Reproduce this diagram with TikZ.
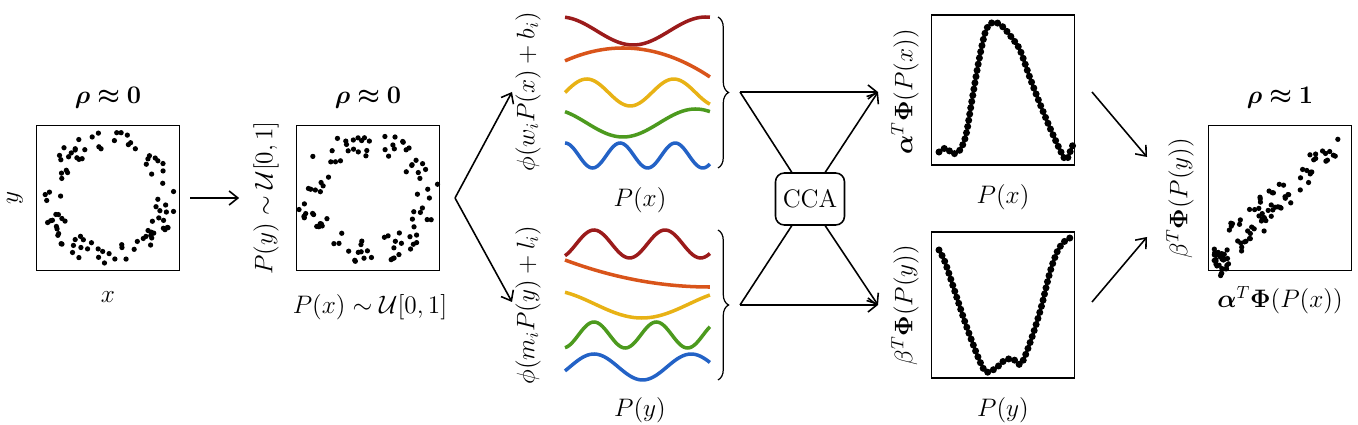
\documentclass[tikz,border=0pt]{standalone}
\usepackage{amsmath}
\usepackage{amssymb}
\usepackage{bm}
\usepackage{tikz}
\usetikzlibrary{arrows.meta, positioning, decorations.pathreplacing, calc}
\definecolor{cred}{HTML}{9B1B1B}
\definecolor{corange}{HTML}{D9541A}
\definecolor{cyellow}{HTML}{E8B215}
\definecolor{cgreen}{HTML}{4C9A1E}
\definecolor{cblue}{HTML}{2362C6}

\begin{document}
\begin{tikzpicture}[x=0.02cm, y=-0.02cm, font=\Large,
    panel/.style={draw, line width=0.9pt, minimum width=2.86cm, minimum height=2.9cm, inner sep=0pt},
    arr/.style={-{Straight Barb[length=5pt,width=8pt]}, line width=0.9pt},
    wave/.style={line width=2pt, smooth, samples=60, domain=0:1},
    dotcurve/.style={line width=4pt, line cap=round, dash pattern=on 0pt off 3.6pt, smooth}]
        \useasboundingbox (0,0) rectangle (1358,425);
        % Scatter panels
        \node[panel] (sc1) at (108,198) {};
        \node[panel] (sc2) at (368,198) {};
        \node[panel] (sc5) at (1280,198) {};
        \pgfmathsetseed{7}
        \foreach \i in {1,...,95}{
          \pgfmathsetmacro\ang{360*rnd}
          \pgfmathsetmacro\rad{57+10*rand}
          \fill ({108+\rad*cos(\ang)}, {198+\rad*sin(\ang)}) circle (1.5pt);
        }
        \foreach \i in {1,...,95}{
          \pgfmathsetmacro\ang{360*rnd}
          \pgfmathsetmacro\rad{54+12*rand}
          \fill ({368+1.08*\rad*cos(\ang)}, {198+\rad*sin(\ang)}) circle (1.5pt);
        }
        \foreach \i in {1,...,85}{
          \pgfmathsetmacro\t{rnd^1.2}
          \pgfmathsetmacro\n{24*rand*(1-0.4*\t)}
          \fill ({1214+128*\t}, {260-120*\t+\n}) circle (1.5pt);
        }
        \foreach \i in {1,...,16}{
          \fill ({1213+12*rnd}, {252+14*rnd}) circle (1.5pt);
        }
        % Labels of scatter panels
        \node (t1) at (108,98) {$\bm{\rho \approx 0}$};
        \node (t2) at (368,98) {$\bm{\rho \approx 0}$};
        \node (t5) at (1280,98) {$\bm{\rho \approx 1}$};
        \node[rotate=90] (ly1) at (15,198) {$y$};
        \node (lx1) at (108,297) {$x$};
        \node[rotate=90] (ly2) at (266,198) {$P(y) \sim \mathcal{U}[0,1]$};
        \node (lx2) at (370,307) {$P(x) \sim \mathcal{U}[0,1]$};
        \node[rotate=90] (ly5) at (1180,198) {$\beta^T\bm{\Phi}(P(y))$};
        \node (lx5) at (1280,300) {$\bm{\alpha}^T\bm{\Phi}(P(x))$};
        % Basis functions
        \begin{scope}[shift={(565,0)}]
          \draw[wave, cred]    plot ({145*\x}, {31+14*cos(360*(\x-0.47))});
          \draw[wave, corange] plot ({145*\x}, {48+80.5*(\x-0.4)^2});
          \draw[wave, cyellow] plot ({145*\x}, {92.5-13.5*cos(360*(\x-0.15)/0.6)});
          \draw[wave, cgreen]  plot ({145*\x}, {123-14*cos(360*(\x-0.9))});
          \draw[wave, cblue, samples=90] plot ({145*\x}, {155.5-12.5*cos(360*\x/0.38)});
          \draw[wave, cred]    plot ({145*\x}, {244-14*cos(360*(\x-0.2)/0.49)});
          \draw[wave, corange] plot ({145*\x}, {287-27*(1-\x)^2});
          \draw[wave, cyellow] plot ({145*\x}, {304+14*cos(360*(\x-0.53)/1.3)});
          \draw[wave, cgreen, samples=90] plot ({145*\x}, {335-13*cos(360*(\x-0.2)/0.43)});
          \draw[wave, cblue]   plot ({145*\x}, {367-13*cos(360*(\x-0.2)/0.67)});
        \end{scope}
        \draw[decorate, decoration={brace, amplitude=6pt}, line width=0.7pt]
          (718,17) -- (718,168);
        \draw[decorate, decoration={brace, amplitude=6pt}, line width=0.7pt]
          (718,230) -- (718,380);
        \node[rotate=90] (phx) at (528,92) {$\phi(w_iP(x)+b_i)$};
        \node[rotate=90] (phy) at (528,305) {$\phi(m_iP(y)+l_i)$};
        \node (px1) at (640,200) {$P(x)$};
        \node (py1) at (640,410) {$P(y)$};
        % CCA
        \node[draw, rounded corners=5pt, line width=0.9pt, minimum width=1.38cm, minimum height=1.04cm] (cca) at (810,199) {CCA};
        \coordinate (inA) at (740,92);
        \coordinate (inB) at (740,305);
        \coordinate (outA) at (878,92);
        \coordinate (outB) at (878,305);
        \draw[line width=0.9pt] (inA) -- ($(cca.north west)+(17,0)$);
        \draw[line width=0.9pt] (inB) -- ($(cca.south west)+(17,0)$);
        \draw[arr] (inA) -- (outA);
        \draw[arr] (inB) -- (outB);
        \draw[arr] ($(cca.north east)+(-20,0)$) -- (outA);
        \draw[arr] ($(cca.south east)+(-20,0)$) -- (outB);
        % Projected panels
        \node[panel, minimum height=3cm] (pa) at (1003,90) {};
        \node[panel, minimum height=2.92cm] (pb) at (1003,305) {};
        \draw[dotcurve] plot coordinates {(939,152) (946,148) (953,154) (960,150) (966,135) (972,100) (979,60) (986,30) (994,22) (1003,27) (1012,38) (1020,50) (1030,78) (1040,104) (1050,128) (1060,150) (1066,160) (1070,152) (1074,142)};
        \draw[dotcurve] plot coordinates {(939,250) (945,262) (955,292) (966,325) (978,357) (986,372) (996,368) (1005,360) (1013,359) (1021,364) (1031,340) (1041,308) (1050,272) (1058,250) (1066,240) (1073,237)};
        \node[rotate=90] (la) at (905,92) {$\bm{\alpha}^T\bm{\Phi}(P(x))$};
        \node[rotate=90] (lb) at (905,305) {$\beta^T\bm{\Phi}(P(y))$};
        \node (px2) at (1003,197) {$P(x)$};
        \node (py2) at (1003,410) {$P(y)$};
        % Connecting arrows
        \coordinate (fork) at (455,198);
        \draw[arr] (sc1.east) ++(10,0) -- ($(ly2.north)+(-8,0)$);
        \draw[arr] (fork) -- (512,92);
        \draw[arr] (fork) -- (512,302);
        \draw[arr] (1092,92) -- (1147,157);
        \draw[arr] (1092,302) -- (1147,237);
      \end{tikzpicture}
\end{document}
